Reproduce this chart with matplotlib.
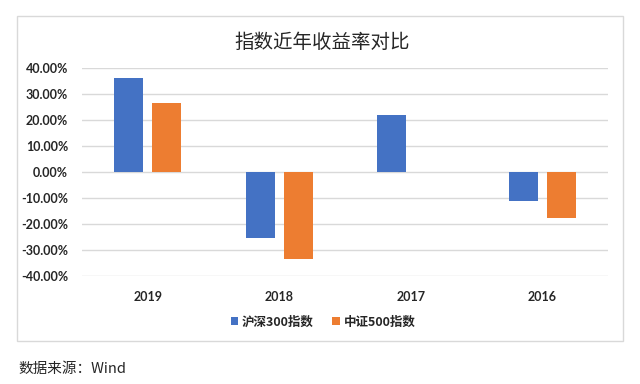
import matplotlib.pyplot as plt
import matplotlib.patches as patches
import numpy as np

plt.rcParams['font.family'] = ['Noto Sans CJK SC', 'DejaVu Sans']

years = ["2019", "2018", "2017", "2016"]
hs300 = [36.07, -25.31, 21.78, -11.28]
zz500 = [26.38, -33.32, 0.0, -17.78]
series_names = ["沪深300指数", "中证500指数"]
colors = ["#4472C4", "#ED7D31"]

W, H = 640, 384
fig = plt.figure(figsize=(6.4, 3.84), dpi=100)

# outer chart frame
fig.patches.append(patches.Rectangle((17 / W, 1 - 341 / H), (623 - 17) / W, (341 - 16) / H,
                                     transform=fig.transFigure, fill=False,
                                     edgecolor="#D9D9D9", linewidth=1))

ax = fig.add_axes([82 / W, 1 - 276 / H, (608 - 82) / W, (276 - 68) / H])
x = np.arange(len(years))
width = 0.22
offset = 0.143
ax.bar(x - offset, hs300, width, color=colors[0], label=series_names[0], zorder=3)
ax.bar(x + offset, zz500, width, color=colors[1], label=series_names[1], zorder=3)

ax.set_xlim(-0.5, 3.5)
ax.set_ylim(-40, 40)
ax.set_yticks(np.arange(-40, 41, 10))
ax.set_yticklabels([f"{v:.2f}%" for v in np.arange(-40, 41, 10)])
ax.set_xticks(x)
ax.set_xticklabels(years)
ax.grid(axis="y", color="#D9D9D9", linewidth=1, zorder=0)
for s in ax.spines.values():
    s.set_visible(False)
ax.tick_params(length=0)
ax.tick_params(axis="x", pad=11)
ax.tick_params(axis="y", pad=10)
for lab in ax.get_xticklabels() + ax.get_yticklabels():
    lab.set_fontfamily(["Lato", "DejaVu Sans"])
    lab.set_fontweight("bold")
    lab.set_fontsize(9)
    lab.set_color("#262626")

fig.text(322 / W, 1 - 42 / H, "指数近年收益率对比", ha="center", va="center",
         fontsize=14, color="#262626")

leg = fig.legend(loc="center", bbox_to_anchor=(323 / W, 1 - 322 / H), ncol=2,
                 frameon=False, fontsize=9, handlelength=0.6, handleheight=0.6,
                 handletextpad=0.3, columnspacing=1.5)
for t in leg.get_texts():
    t.set_fontweight("bold")
    t.set_color("#262626")

fig.text(18 / W, 1 - 369 / H, "数据来源：Wind", ha="left", va="center",
         fontsize=10.5, color="#262626")

fig.savefig("out.png", dpi=100, facecolor="white")
